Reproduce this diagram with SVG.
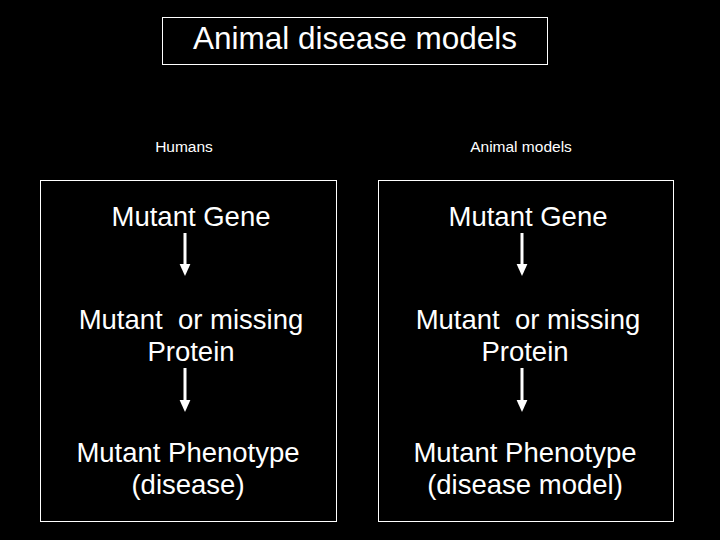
<svg xmlns="http://www.w3.org/2000/svg" width="720" height="540" viewBox="0 0 720 540">
<style>
text{font-family:"Liberation Sans",Arial,sans-serif;fill:#fff;text-anchor:middle;white-space:pre}
.b{fill:none;stroke:#fff;stroke-width:1}
.t{font-size:27.5px}
.a{stroke:#fff;stroke-width:3;fill:none}
</style>
<defs><marker id="h" markerWidth="4" markerHeight="4" refX="2" refY="2" orient="auto" markerUnits="strokeWidth"><path d="M0,0.2 L4,2 L0,3.8 Z" fill="#fff"/></marker></defs>
<rect width="720" height="540" fill="#000"/>
<g id="title"><rect class="b" x="162.5" y="17.5" width="385" height="47"/><text x="355" y="49" font-size="31.5">Animal disease models</text></g>
<g id="humans"><text x="184" y="152" font-size="15.5">Humans</text><rect class="b" x="40.5" y="180.5" width="296" height="341"/>
<text class="t" x="191" y="226">Mutant Gene</text>
<text class="t" x="191" y="329" xml:space="preserve">Mutant  or missing</text><text class="t" x="191" y="361">Protein</text>
<text class="t" x="188" y="462">Mutant Phenotype</text><text class="t" x="188" y="494">(disease)</text></g>
<g id="animals"><text x="521" y="152" font-size="15.5">Animal models</text><rect class="b" x="378.5" y="180.5" width="295" height="341"/>
<text class="t" x="528" y="226">Mutant Gene</text>
<text class="t" x="528" y="329" xml:space="preserve">Mutant  or missing</text><text class="t" x="525" y="361">Protein</text>
<text class="t" x="525" y="462">Mutant Phenotype</text><text class="t" x="525" y="494">(disease model)</text></g>
<g id="connectors">
<line class="a" x1="185" y1="233" x2="185" y2="270" marker-end="url(#h)"/>
<line class="a" x1="522" y1="233" x2="522" y2="270" marker-end="url(#h)"/>
<line class="a" x1="185" y1="368" x2="185" y2="406" marker-end="url(#h)"/>
<line class="a" x1="522" y1="368" x2="522" y2="406" marker-end="url(#h)"/>
</g>
</svg>
